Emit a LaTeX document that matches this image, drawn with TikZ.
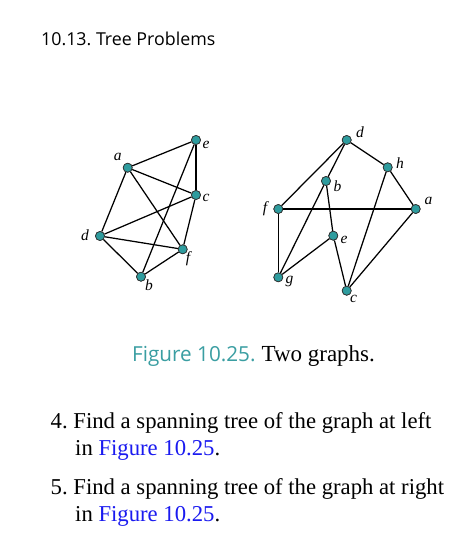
\documentclass[tikz,border=0pt]{standalone}
\usepackage{fontspec}
\setmainfont{Liberation Serif}
\newfontfamily\headfont{Open Sans}
\definecolor{nodeteal}{HTML}{2E9C9E}
\definecolor{capteal}{HTML}{3A9EA2}
\definecolor{linkblue}{HTML}{1A1AF0}
\begin{document}
\begin{tikzpicture}[x=1pt,y=-1pt,
  vtx/.style={circle,fill=nodeteal,draw=black!80,line width=0.7pt,inner sep=0pt,minimum size=9pt},
  edge/.style={line width=1.25pt,black},
  lbl/.style={font=\fontsize{15.5}{15.5}\selectfont\itshape,inner sep=0pt},
  txt/.style={anchor=base west,inner sep=0pt,font=\fontsize{22.7}{22.7}\selectfont}]
\fill[white] (0,0) rectangle (452,542);
\useasboundingbox (0,0) rectangle (452,542);
% heading
\node[anchor=base west,inner sep=0pt,font=\headfont\fontsize{17.8}{17.8}\selectfont] (head) at (41,45) {10.13.\ Tree Problems};
% left graph
\node[vtx] (La) at (127.7,167.7) {};
\node[vtx] (Le) at (196,140) {};
\node[vtx] (Lc) at (196,195) {};
\node[vtx] (Ld) at (100,236) {};
\node[vtx] (Lf) at (182.7,249.3) {};
\node[vtx] (Lb) at (141,276.7) {};
\draw[edge] (La) -- (Le);
\draw[edge] (La) -- (Lc);
\draw[edge] (La) -- (Lf);
\draw[edge] (La) -- (Ld);
\draw[edge] (Le) -- (Lc);
\draw[edge] (Le) -- (Lb);
\draw[edge] (Lc) -- (Ld);
\draw[edge] (Lc) -- (Lf);
\draw[edge] (Ld) -- (Lf);
\draw[edge] (Ld) -- (Lb);
\draw[edge] (Lb) -- (Lf);
\node[lbl] (lLa) at (117.7,157) {a};
\node[lbl] (lLe) at (206,145) {e};
\node[lbl] (lLc) at (206,198) {c};
\node[lbl] (lLd) at (85,235) {d};
\node[lbl] (lLf) at (188,259) {f};
\node[lbl] (lLb) at (149,285) {b};
% right graph
\node[vtx] (Rd) at (346.7,140) {};
\node[vtx] (Rh) at (387.7,167.3) {};
\node[vtx] (Rb) at (326,181) {};
\node[vtx] (Rf) at (278.3,209) {};
\node[vtx] (Ra) at (415.7,209) {};
\node[vtx] (Re) at (333.3,235.7) {};
\node[vtx] (Rg) at (278.3,277.3) {};
\node[vtx] (Rc) at (346.7,290.7) {};
\draw[edge] (Rd) -- (Rf);
\draw[edge] (Rd) -- (Rb);
\draw[edge] (Rd) -- (Rh);
\draw[edge] (Rh) -- (Ra);
\draw[edge] (Rh) -- (Rc);
\draw[edge] (Rf) -- (Ra);
\draw[edge] (Rf) -- (Rg);
\draw[edge] (Rb) -- (Rg);
\draw[edge] (Rb) -- (Re);
\draw[edge] (Re) -- (Rg);
\draw[edge] (Re) -- (Rc);
\draw[edge] (Rc) -- (Ra);
\foreach \n in {Rd,Rh,Rb,Rf,Ra,Re,Rg,Rc,La,Le,Lc,Ld,Lf,Lb}
  \node[vtx] at (\n) {};
\node[lbl] (lRd) at (360,132) {d};
\node[lbl] (lRh) at (400,163) {h};
\node[lbl] (lRb) at (337.5,186.5) {b};
\node[lbl] (lRf) at (265,209) {f};
\node[lbl] (lRa) at (428.5,201) {a};
\node[lbl] (lRe) at (344,240) {e};
\node[lbl] (lRg) at (289.5,281) {g};
\node[lbl] (lRc) at (353.5,298.5) {c};
% caption
\node[anchor=base west,inner sep=0pt] (cap) at (132,361) {{\headfont\fontsize{20.7}{20.7}\selectfont\color{capteal}Figure 10.25.}\hspace{6pt}{\fontsize{23}{23}\selectfont Two graphs.}};
% exercises
\node[txt] (p4a) at (50.5,428) {4.\ Find a spanning tree of the graph at left};
\node[txt] (p4b) at (75,455) {in {\color{linkblue}Figure 10.25}.};
\node[txt] (p5a) at (50.5,494) {5.\ Find a spanning tree of the graph at right};
\node[txt] (p5b) at (75,521) {in {\color{linkblue}Figure 10.25}.};
\end{tikzpicture}
\end{document}
